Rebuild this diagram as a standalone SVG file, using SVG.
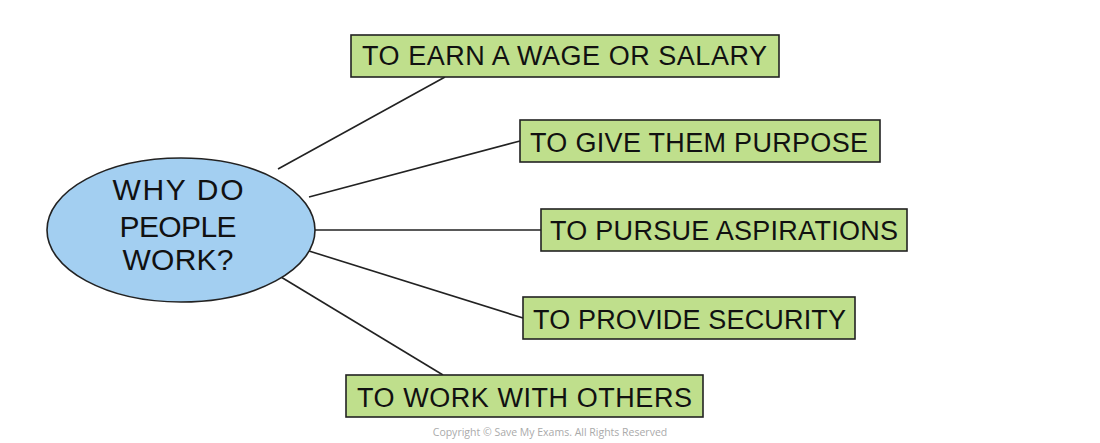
<svg xmlns="http://www.w3.org/2000/svg" width="1100" height="443" viewBox="0 0 1100 443">
<style>
.box{fill:#bfdf8c;stroke:#222;stroke-width:1.6}
.lbl{font-family:"Liberation Sans",Arial,sans-serif;font-size:27px;fill:#111}
.ctr{font-family:"Liberation Sans",Arial,sans-serif;font-size:30px;fill:#111;text-anchor:middle}
.con{stroke:#222;stroke-width:1.6;fill:none}
</style>
<rect width="1100" height="443" fill="#fff"/>
<g id="connectors">
<line class="con" x1="278" y1="169" x2="445" y2="77"/>
<line class="con" x1="309" y1="197" x2="520" y2="141"/>
<line class="con" x1="315" y1="230" x2="541" y2="230"/>
<line class="con" x1="309" y1="251" x2="523" y2="318"/>
<line class="con" x1="281" y1="277" x2="443" y2="375"/>
</g>
<g id="center">
<ellipse cx="181" cy="230" rx="134" ry="72" fill="#a3cff1" stroke="#222" stroke-width="1.6"/>
<text class="ctr" x="178" y="200" textLength="131">WHY DO</text>
<text class="ctr" x="178" y="237" textLength="117">PEOPLE</text>
<text class="ctr" x="178" y="270" textLength="111">WORK?</text>
</g>
<g id="n1">
<rect class="box" x="351" y="35" width="428" height="42"/>
<text class="lbl" x="362" y="65" textLength="405">TO EARN A WAGE OR SALARY</text>
</g>
<g id="n2">
<rect class="box" x="520" y="120" width="360" height="42"/>
<text class="lbl" x="530" y="152" textLength="338">TO GIVE THEM PURPOSE</text>
</g>
<g id="n3">
<rect class="box" x="541" y="209" width="366" height="42"/>
<text class="lbl" x="550" y="240" textLength="348">TO PURSUE ASPIRATIONS</text>
</g>
<g id="n4">
<rect class="box" x="523" y="297" width="332" height="42"/>
<text class="lbl" x="533" y="329" textLength="313">TO PROVIDE SECURITY</text>
</g>
<g id="n5">
<rect class="box" x="346" y="375" width="357" height="42"/>
<text class="lbl" x="357" y="407" textLength="335">TO WORK WITH OTHERS</text>
</g>
<text x="550" y="436" text-anchor="middle" font-family="'Open Sans','Liberation Sans',sans-serif" font-size="10.5" fill="#aaa">Copyright © Save My Exams. All Rights Reserved</text>
</svg>
